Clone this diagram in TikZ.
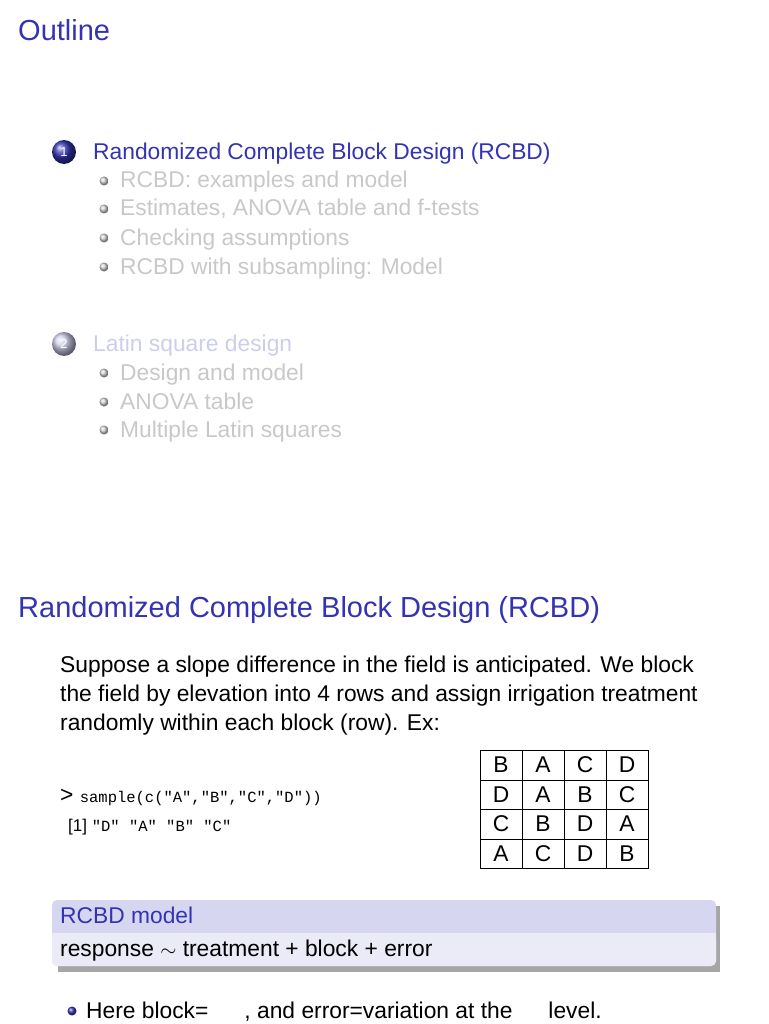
\documentclass[tikz,border=0pt]{standalone}
\usepackage{fontspec}
\setmainfont{Liberation Sans}
\setmonofont{Liberation Mono}
\usetikzlibrary{shadows}
\definecolor{bblue}{RGB}{51,51,179}
\definecolor{lgray}{RGB}{200,200,200}
\definecolor{lblue}{RGB}{205,205,236}
\definecolor{bhead}{RGB}{214,214,240}
\definecolor{bbody}{RGB}{235,235,247}
\tikzset{txt/.style={anchor=base west,inner sep=0pt,font=\fontsize{22.8}{26}\selectfont},
 sub/.style={txt,text=lgray},
 dot/.style={circle,ball color=#1,minimum size=9pt,inner sep=0pt},
 cell/.style={draw,minimum width=42pt,minimum height=29.5pt,inner sep=0pt,font=\fontsize{22.8}{26}\selectfont}}
\begin{document}
\begin{tikzpicture}[x=1pt,y=-1pt]
\useasboundingbox (0,0) rectangle (768,1024);
\node[txt,text=bblue,font=\fontsize{29}{32}\selectfont] (t1) at (18,41) {Outline};
\node[circle,ball color=bblue,minimum size=24pt,inner sep=0pt,text=white,font=\fontsize{13}{14}\selectfont] (n1) at (64,152) {1};
\node[txt,text=bblue] (s1) at (93,160) {Randomized Complete Block Design (RCBD)};
\foreach \y/\t [count=\i] in {188/RCBD: examples and model,216/{Estimates, ANOVA table and f-tests},245/Checking assumptions,274/RCBD with subsampling: Model}{
 \node[dot=lgray!80] (d\i) at (104,\y-7) {};
 \node[sub] (a\i) at (120,\y) {\t};}
\node[circle,ball color=lblue,minimum size=24pt,inner sep=0pt,text=white,font=\fontsize{13}{14}\selectfont] (n2) at (64,344) {2};
\node[txt,text=lblue] (s2) at (93,351) {Latin square design};
\foreach \y/\t [count=\i] in {380/Design and model,409/ANOVA table,437/Multiple Latin squares}{
 \node[dot=lgray!80] (e\i) at (104,\y-7) {};
 \node[sub] (b\i) at (120,\y) {\t};}
\node[txt,text=bblue,font=\fontsize{29}{32}\selectfont] (t2) at (18,617) {Randomized Complete Block Design (RCBD)};
\node[txt] (p1) at (60,672) {Suppose a slope difference in the field is anticipated. We block};
\node[txt] (p2) at (60,701) {the field by elevation into 4 rows and assign irrigation treatment};
\node[txt] (p3) at (60,730) {randomly within each block (row). Ex:};
\node[txt] (c1) at (60,802) {> {\ttfamily\fontsize{15.5}{17}\selectfont sample(c("A","B","C","D"))}};
\node[txt,font=\fontsize{17}{19}\selectfont] (c2) at (68,831) {[1] {\ttfamily\fontsize{15.5}{17}\selectfont "D" "A" "B" "C"}};
\foreach \r/\row in {0/{B,A,C,D},1/{D,A,B,C},2/{C,B,D,A},3/{A,C,D,B}}{
 \foreach \l [count=\c] in \row {
  \node[cell] (g\r\c) at (459+42*\c,765+29.5*\r) {\l};}}
\fill[black!35] (58,906) rectangle (720,972);
\fill[bhead,rounded corners=5pt] (52,900) rectangle (716,966);
\fill[bbody,rounded corners=5pt] (52,933) rectangle (716,966);
\fill[bbody] (52,933) rectangle (716,945);
\node[txt,text=bblue] (h) at (60,923) {RCBD model};
\node[txt] (m) at (60,956) {response $\sim$ treatment + block + error};
\node[dot=bblue] (f1) at (72,1011) {};
\node[txt] (l) at (86,1018) {Here block=\hspace{36pt}, and error=variation at the\hspace{36pt}level.};
\end{tikzpicture}
\end{document}
